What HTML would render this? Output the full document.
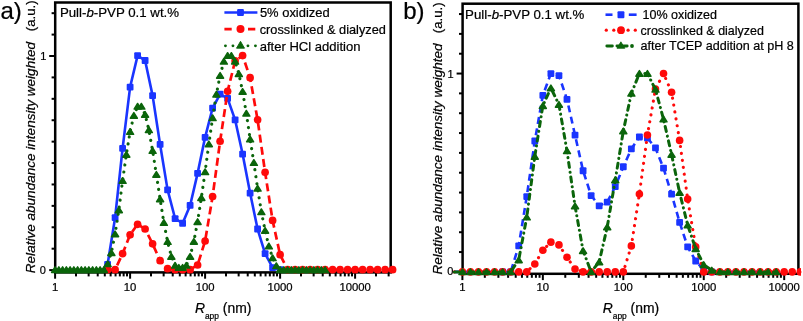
<!DOCTYPE html><html><head><meta charset="utf-8"><style>html,body{margin:0;padding:0;background:#fff;overflow:hidden}svg{display:block;will-change:transform}</style></head><body><svg width="803" height="321" viewBox="0 0 803 321" font-family="Liberation Sans, sans-serif"><style>text{stroke:#000;stroke-width:0.22px;fill:#000}</style><rect width="803" height="321" fill="#fff"/><defs><clipPath id="cb"><rect x="0" y="0" width="801" height="321"/></clipPath></defs><rect x="55.20" y="2.50" width="335.50" height="269.90" fill="none" stroke="#000" stroke-width="2.5"/><line x1="55.10" y1="272.40" x2="55.10" y2="278.70" stroke="#000" stroke-width="2"/><line x1="76.01" y1="272.40" x2="76.01" y2="276.40" stroke="#000" stroke-width="2"/><line x1="88.64" y1="272.40" x2="88.64" y2="276.40" stroke="#000" stroke-width="2"/><line x1="97.72" y1="272.40" x2="97.72" y2="276.40" stroke="#000" stroke-width="2"/><line x1="104.81" y1="272.40" x2="104.81" y2="276.40" stroke="#000" stroke-width="2"/><line x1="110.63" y1="272.40" x2="110.63" y2="276.40" stroke="#000" stroke-width="2"/><line x1="115.56" y1="272.40" x2="115.56" y2="276.40" stroke="#000" stroke-width="2"/><line x1="119.85" y1="272.40" x2="119.85" y2="276.40" stroke="#000" stroke-width="2"/><line x1="123.64" y1="272.40" x2="123.64" y2="276.40" stroke="#000" stroke-width="2"/><line x1="127.03" y1="272.40" x2="127.03" y2="276.40" stroke="#000" stroke-width="2"/><line x1="130.10" y1="272.40" x2="130.10" y2="278.70" stroke="#000" stroke-width="2"/><line x1="151.01" y1="272.40" x2="151.01" y2="276.40" stroke="#000" stroke-width="2"/><line x1="163.64" y1="272.40" x2="163.64" y2="276.40" stroke="#000" stroke-width="2"/><line x1="172.72" y1="272.40" x2="172.72" y2="276.40" stroke="#000" stroke-width="2"/><line x1="179.81" y1="272.40" x2="179.81" y2="276.40" stroke="#000" stroke-width="2"/><line x1="185.63" y1="272.40" x2="185.63" y2="276.40" stroke="#000" stroke-width="2"/><line x1="190.56" y1="272.40" x2="190.56" y2="276.40" stroke="#000" stroke-width="2"/><line x1="194.85" y1="272.40" x2="194.85" y2="276.40" stroke="#000" stroke-width="2"/><line x1="198.64" y1="272.40" x2="198.64" y2="276.40" stroke="#000" stroke-width="2"/><line x1="202.03" y1="272.40" x2="202.03" y2="276.40" stroke="#000" stroke-width="2"/><line x1="205.10" y1="272.40" x2="205.10" y2="278.70" stroke="#000" stroke-width="2"/><line x1="226.01" y1="272.40" x2="226.01" y2="276.40" stroke="#000" stroke-width="2"/><line x1="238.64" y1="272.40" x2="238.64" y2="276.40" stroke="#000" stroke-width="2"/><line x1="247.72" y1="272.40" x2="247.72" y2="276.40" stroke="#000" stroke-width="2"/><line x1="254.81" y1="272.40" x2="254.81" y2="276.40" stroke="#000" stroke-width="2"/><line x1="260.63" y1="272.40" x2="260.63" y2="276.40" stroke="#000" stroke-width="2"/><line x1="265.56" y1="272.40" x2="265.56" y2="276.40" stroke="#000" stroke-width="2"/><line x1="269.85" y1="272.40" x2="269.85" y2="276.40" stroke="#000" stroke-width="2"/><line x1="273.64" y1="272.40" x2="273.64" y2="276.40" stroke="#000" stroke-width="2"/><line x1="277.03" y1="272.40" x2="277.03" y2="276.40" stroke="#000" stroke-width="2"/><line x1="280.10" y1="272.40" x2="280.10" y2="278.70" stroke="#000" stroke-width="2"/><line x1="301.01" y1="272.40" x2="301.01" y2="276.40" stroke="#000" stroke-width="2"/><line x1="313.64" y1="272.40" x2="313.64" y2="276.40" stroke="#000" stroke-width="2"/><line x1="322.72" y1="272.40" x2="322.72" y2="276.40" stroke="#000" stroke-width="2"/><line x1="329.81" y1="272.40" x2="329.81" y2="276.40" stroke="#000" stroke-width="2"/><line x1="335.63" y1="272.40" x2="335.63" y2="276.40" stroke="#000" stroke-width="2"/><line x1="340.56" y1="272.40" x2="340.56" y2="276.40" stroke="#000" stroke-width="2"/><line x1="344.85" y1="272.40" x2="344.85" y2="276.40" stroke="#000" stroke-width="2"/><line x1="348.64" y1="272.40" x2="348.64" y2="276.40" stroke="#000" stroke-width="2"/><line x1="352.03" y1="272.40" x2="352.03" y2="276.40" stroke="#000" stroke-width="2"/><line x1="355.10" y1="272.40" x2="355.10" y2="278.70" stroke="#000" stroke-width="2"/><line x1="376.01" y1="272.40" x2="376.01" y2="276.40" stroke="#000" stroke-width="2"/><line x1="388.64" y1="272.40" x2="388.64" y2="276.40" stroke="#000" stroke-width="2"/><line x1="49.20" y1="270.10" x2="55.20" y2="270.10" stroke="#000" stroke-width="2"/><line x1="51.60" y1="248.69" x2="55.20" y2="248.69" stroke="#000" stroke-width="2"/><line x1="51.60" y1="227.28" x2="55.20" y2="227.28" stroke="#000" stroke-width="2"/><line x1="51.60" y1="205.87" x2="55.20" y2="205.87" stroke="#000" stroke-width="2"/><line x1="51.60" y1="184.46" x2="55.20" y2="184.46" stroke="#000" stroke-width="2"/><line x1="51.60" y1="163.05" x2="55.20" y2="163.05" stroke="#000" stroke-width="2"/><line x1="51.60" y1="141.64" x2="55.20" y2="141.64" stroke="#000" stroke-width="2"/><line x1="51.60" y1="120.23" x2="55.20" y2="120.23" stroke="#000" stroke-width="2"/><line x1="51.60" y1="98.82" x2="55.20" y2="98.82" stroke="#000" stroke-width="2"/><line x1="51.60" y1="77.41" x2="55.20" y2="77.41" stroke="#000" stroke-width="2"/><line x1="49.20" y1="56.00" x2="55.20" y2="56.00" stroke="#000" stroke-width="2"/><line x1="51.60" y1="34.59" x2="55.20" y2="34.59" stroke="#000" stroke-width="2"/><line x1="51.60" y1="13.18" x2="55.20" y2="13.18" stroke="#000" stroke-width="2"/><text x="55.10" y="291.1" font-size="11.3" text-anchor="middle" >1</text><text x="130.10" y="291.1" font-size="11.3" text-anchor="middle" >10</text><text x="205.10" y="291.1" font-size="11.3" text-anchor="middle" >100</text><text x="280.10" y="291.1" font-size="11.3" text-anchor="middle" >1000</text><text x="355.10" y="291.1" font-size="11.3" text-anchor="middle" >10000</text><text x="43.2" y="60.2" font-size="11" text-anchor="middle" >1</text><text x="42.8" y="274.2" font-size="11" text-anchor="middle" >0</text><text x="194.9" y="312.6" font-size="13.9"><tspan font-style="italic">R</tspan><tspan font-size="8.4" dy="6.0">app</tspan><tspan dy="-6.0"> (nm)</tspan></text><text transform="translate(34.6,273.2) rotate(-90)" font-size="13.55"><tspan font-style="italic">Relative abundance intensity weighted</tspan><tspan dx="10.8" font-size="13.2">(a.u.)</tspan></text><text x="0.5" y="18.7" font-size="24" text-anchor="start" >a)</text><text x="59.9" y="17.1" font-size="13.6" textLength="119.2" lengthAdjust="spacingAndGlyphs">Pull-<tspan font-style="italic">b</tspan>-PVP 0.1 wt.%</text><polyline points="107.60,264.35 115.10,217.67 122.60,148.31 130.10,87.07 137.60,55.60 145.10,60.52 152.60,95.64 160.10,144.45 167.60,189.84 175.10,218.53 182.60,223.24 190.10,205.47 197.60,173.35 205.10,137.39 212.60,108.05 220.10,94.14 227.60,98.42 235.10,119.83 242.60,154.09 250.10,193.05 257.60,229.02 265.10,253.64 272.60,267.56 280.10,269.70" fill="none" stroke="#1a35ff" stroke-width="2.6" stroke-linecap="butt" stroke-linejoin="round"/><g fill="#1a35ff"><rect x="104.20" y="260.95" width="6.8" height="6.8" rx="1"/><rect x="111.70" y="214.27" width="6.8" height="6.8" rx="1"/><rect x="119.20" y="144.91" width="6.8" height="6.8" rx="1"/><rect x="126.70" y="83.67" width="6.8" height="6.8" rx="1"/><rect x="134.20" y="52.20" width="6.8" height="6.8" rx="1"/><rect x="141.70" y="57.12" width="6.8" height="6.8" rx="1"/><rect x="149.20" y="92.24" width="6.8" height="6.8" rx="1"/><rect x="156.70" y="141.05" width="6.8" height="6.8" rx="1"/><rect x="164.20" y="186.44" width="6.8" height="6.8" rx="1"/><rect x="171.70" y="215.13" width="6.8" height="6.8" rx="1"/><rect x="179.20" y="219.84" width="6.8" height="6.8" rx="1"/><rect x="186.70" y="202.07" width="6.8" height="6.8" rx="1"/><rect x="194.20" y="169.95" width="6.8" height="6.8" rx="1"/><rect x="201.70" y="133.99" width="6.8" height="6.8" rx="1"/><rect x="209.20" y="104.65" width="6.8" height="6.8" rx="1"/><rect x="216.70" y="90.74" width="6.8" height="6.8" rx="1"/><rect x="224.20" y="95.02" width="6.8" height="6.8" rx="1"/><rect x="231.70" y="116.43" width="6.8" height="6.8" rx="1"/><rect x="239.20" y="150.69" width="6.8" height="6.8" rx="1"/><rect x="246.70" y="189.65" width="6.8" height="6.8" rx="1"/><rect x="254.20" y="225.62" width="6.8" height="6.8" rx="1"/><rect x="261.70" y="250.24" width="6.8" height="6.8" rx="1"/><rect x="269.20" y="264.16" width="6.8" height="6.8" rx="1"/><rect x="276.70" y="266.30" width="6.8" height="6.8" rx="1"/></g><polyline points="107.60,269.70 115.10,269.70 122.60,253.64 130.10,234.80 137.60,224.31 145.10,229.02 152.60,243.79 160.10,260.71 167.60,268.63 175.10,269.70 182.60,269.70 190.10,269.70 197.60,264.99 205.10,241.01 212.60,196.48 220.10,141.24 227.60,91.35 235.10,60.95 242.60,55.60 250.10,77.65 257.60,119.83 265.10,172.28 272.60,220.46 280.10,254.71 287.60,269.70 295.10,269.70 302.60,269.70 310.10,269.70 317.60,269.70 325.10,269.70 332.60,269.70 340.10,269.70 347.60,269.70 355.10,269.70 362.60,269.70 370.10,269.70 377.60,269.70 385.10,269.70 392.60,269.70" fill="none" stroke="#ff0a0a" stroke-width="2.7" stroke-dasharray="8,4.3" stroke-linecap="butt" stroke-linejoin="round"/><g fill="#ff0a0a"><circle cx="107.60" cy="269.70" r="3.85"/><circle cx="115.10" cy="269.70" r="3.85"/><circle cx="122.60" cy="253.64" r="3.85"/><circle cx="130.10" cy="234.80" r="3.85"/><circle cx="137.60" cy="224.31" r="3.85"/><circle cx="145.10" cy="229.02" r="3.85"/><circle cx="152.60" cy="243.79" r="3.85"/><circle cx="160.10" cy="260.71" r="3.85"/><circle cx="167.60" cy="268.63" r="3.85"/><circle cx="175.10" cy="269.70" r="3.85"/><circle cx="182.60" cy="269.70" r="3.85"/><circle cx="190.10" cy="269.70" r="3.85"/><circle cx="197.60" cy="264.99" r="3.85"/><circle cx="205.10" cy="241.01" r="3.85"/><circle cx="212.60" cy="196.48" r="3.85"/><circle cx="220.10" cy="141.24" r="3.85"/><circle cx="227.60" cy="91.35" r="3.85"/><circle cx="235.10" cy="60.95" r="3.85"/><circle cx="242.60" cy="55.60" r="3.85"/><circle cx="250.10" cy="77.65" r="3.85"/><circle cx="257.60" cy="119.83" r="3.85"/><circle cx="265.10" cy="172.28" r="3.85"/><circle cx="272.60" cy="220.46" r="3.85"/><circle cx="280.10" cy="254.71" r="3.85"/><circle cx="287.60" cy="269.70" r="3.85"/><circle cx="295.10" cy="269.70" r="3.85"/><circle cx="302.60" cy="269.70" r="3.85"/><circle cx="310.10" cy="269.70" r="3.85"/><circle cx="317.60" cy="269.70" r="3.85"/><circle cx="325.10" cy="269.70" r="3.85"/><circle cx="332.60" cy="269.70" r="3.85"/><circle cx="340.10" cy="269.70" r="3.85"/><circle cx="347.60" cy="269.70" r="3.85"/><circle cx="355.10" cy="269.70" r="3.85"/><circle cx="362.60" cy="269.70" r="3.85"/><circle cx="370.10" cy="269.70" r="3.85"/><circle cx="377.60" cy="269.70" r="3.85"/><circle cx="385.10" cy="269.70" r="3.85"/><circle cx="392.60" cy="269.70" r="3.85"/></g><polyline points="55.10,269.70 58.85,269.70 62.60,269.70 66.35,269.70 70.10,269.70 73.85,269.70 77.60,269.70 81.35,269.70 85.10,269.70 88.85,269.70 92.60,269.70 96.35,269.70 100.10,269.70 103.85,269.70 107.60,263.92 111.35,252.79 115.10,233.95 118.85,209.97 122.60,180.63 126.35,154.51 130.10,131.61 133.85,115.55 137.60,106.34 141.35,106.34 145.10,114.48 148.85,129.89 152.60,150.66 156.35,174.43 160.10,199.05 163.85,222.60 167.60,241.65 171.35,256.43 175.10,265.42 178.85,267.56 182.60,267.56 186.35,265.42 190.10,256.43 193.85,241.44 197.60,221.74 201.35,197.76 205.10,171.86 208.85,144.02 212.60,117.90 216.35,94.35 220.10,75.51 223.85,61.38 227.60,55.60 231.35,55.60 235.10,61.38 238.85,73.80 242.60,91.57 246.35,113.41 250.10,139.10 253.85,162.65 257.60,188.34 261.35,211.89 265.10,230.52 268.85,246.15 272.60,257.92 276.35,265.85 280.10,269.70 283.85,269.70 287.60,269.70 291.35,269.70 295.10,269.70 298.85,269.70 302.60,269.70 306.35,269.70 310.10,269.70 313.85,269.70 317.60,269.70 321.35,269.70 325.10,269.70" fill="none" stroke="#0b650b" stroke-width="3.1" stroke-dasharray="0.1,7" stroke-linecap="round" stroke-linejoin="round"/><g fill="#0b650b" stroke="#0b650b" stroke-width="1.5" stroke-linejoin="round"><path d="M55.10,266.80L58.60,272.40L51.60,272.40Z"/><path d="M58.85,266.80L62.35,272.40L55.35,272.40Z"/><path d="M62.60,266.80L66.10,272.40L59.10,272.40Z"/><path d="M66.35,266.80L69.85,272.40L62.85,272.40Z"/><path d="M70.10,266.80L73.60,272.40L66.60,272.40Z"/><path d="M73.85,266.80L77.35,272.40L70.35,272.40Z"/><path d="M77.60,266.80L81.10,272.40L74.10,272.40Z"/><path d="M81.35,266.80L84.85,272.40L77.85,272.40Z"/><path d="M85.10,266.80L88.60,272.40L81.60,272.40Z"/><path d="M88.85,266.80L92.35,272.40L85.35,272.40Z"/><path d="M92.60,266.80L96.10,272.40L89.10,272.40Z"/><path d="M96.35,266.80L99.85,272.40L92.85,272.40Z"/><path d="M100.10,266.80L103.60,272.40L96.60,272.40Z"/><path d="M103.85,266.80L107.35,272.40L100.35,272.40Z"/><path d="M107.60,261.02L111.10,266.62L104.10,266.62Z"/><path d="M111.35,249.89L114.85,255.49L107.85,255.49Z"/><path d="M115.10,231.05L118.60,236.65L111.60,236.65Z"/><path d="M118.85,207.07L122.35,212.67L115.35,212.67Z"/><path d="M122.60,177.73L126.10,183.33L119.10,183.33Z"/><path d="M126.35,151.61L129.85,157.21L122.85,157.21Z"/><path d="M130.10,128.71L133.60,134.31L126.60,134.31Z"/><path d="M133.85,112.65L137.35,118.25L130.35,118.25Z"/><path d="M137.60,103.44L141.10,109.04L134.10,109.04Z"/><path d="M141.35,103.44L144.85,109.04L137.85,109.04Z"/><path d="M145.10,111.58L148.60,117.18L141.60,117.18Z"/><path d="M148.85,126.99L152.35,132.59L145.35,132.59Z"/><path d="M152.60,147.76L156.10,153.36L149.10,153.36Z"/><path d="M156.35,171.53L159.85,177.13L152.85,177.13Z"/><path d="M160.10,196.15L163.60,201.75L156.60,201.75Z"/><path d="M163.85,219.70L167.35,225.30L160.35,225.30Z"/><path d="M167.60,238.75L171.10,244.35L164.10,244.35Z"/><path d="M171.35,253.53L174.85,259.13L167.85,259.13Z"/><path d="M175.10,262.52L178.60,268.12L171.60,268.12Z"/><path d="M178.85,264.66L182.35,270.26L175.35,270.26Z"/><path d="M182.60,264.66L186.10,270.26L179.10,270.26Z"/><path d="M186.35,262.52L189.85,268.12L182.85,268.12Z"/><path d="M190.10,253.53L193.60,259.13L186.60,259.13Z"/><path d="M193.85,238.54L197.35,244.14L190.35,244.14Z"/><path d="M197.60,218.84L201.10,224.44L194.10,224.44Z"/><path d="M201.35,194.86L204.85,200.46L197.85,200.46Z"/><path d="M205.10,168.96L208.60,174.56L201.60,174.56Z"/><path d="M208.85,141.12L212.35,146.72L205.35,146.72Z"/><path d="M212.60,115.00L216.10,120.60L209.10,120.60Z"/><path d="M216.35,91.45L219.85,97.05L212.85,97.05Z"/><path d="M220.10,72.61L223.60,78.21L216.60,78.21Z"/><path d="M223.85,58.48L227.35,64.08L220.35,64.08Z"/><path d="M227.60,52.70L231.10,58.30L224.10,58.30Z"/><path d="M231.35,52.70L234.85,58.30L227.85,58.30Z"/><path d="M235.10,58.48L238.60,64.08L231.60,64.08Z"/><path d="M238.85,70.90L242.35,76.50L235.35,76.50Z"/><path d="M242.60,88.67L246.10,94.27L239.10,94.27Z"/><path d="M246.35,110.51L249.85,116.11L242.85,116.11Z"/><path d="M250.10,136.20L253.60,141.80L246.60,141.80Z"/><path d="M253.85,159.75L257.35,165.35L250.35,165.35Z"/><path d="M257.60,185.44L261.10,191.04L254.10,191.04Z"/><path d="M261.35,208.99L264.85,214.59L257.85,214.59Z"/><path d="M265.10,227.62L268.60,233.22L261.60,233.22Z"/><path d="M268.85,243.25L272.35,248.85L265.35,248.85Z"/><path d="M272.60,255.02L276.10,260.62L269.10,260.62Z"/><path d="M276.35,262.95L279.85,268.55L272.85,268.55Z"/><path d="M280.10,266.80L283.60,272.40L276.60,272.40Z"/><path d="M283.85,266.80L287.35,272.40L280.35,272.40Z"/><path d="M287.60,266.80L291.10,272.40L284.10,272.40Z"/><path d="M291.35,266.80L294.85,272.40L287.85,272.40Z"/><path d="M295.10,266.80L298.60,272.40L291.60,272.40Z"/><path d="M298.85,266.80L302.35,272.40L295.35,272.40Z"/><path d="M302.60,266.80L306.10,272.40L299.10,272.40Z"/><path d="M306.35,266.80L309.85,272.40L302.85,272.40Z"/><path d="M310.10,266.80L313.60,272.40L306.60,272.40Z"/><path d="M313.85,266.80L317.35,272.40L310.35,272.40Z"/><path d="M317.60,266.80L321.10,272.40L314.10,272.40Z"/><path d="M321.35,266.80L324.85,272.40L317.85,272.40Z"/><path d="M325.10,266.80L328.60,272.40L321.60,272.40Z"/></g><line x1="224.4" y1="12.5" x2="257.4" y2="12.5" stroke="#1a35ff" stroke-width="2.6"/><rect x="237.1" y="9.1" width="6.8" height="6.8" rx="1" fill="#1a35ff"/><line x1="224.4" y1="29.1" x2="257.4" y2="29.1" stroke="#ff0a0a" stroke-width="2.6" stroke-dasharray="7.3,16.3"/><circle cx="240.5" cy="29.1" r="4.0" fill="#ff0a0a"/><line x1="225.4" y1="45.8" x2="257.4" y2="45.8" stroke="#0b650b" stroke-width="2.8" stroke-dasharray="0.1,7.4" stroke-linecap="round"/><g fill="#0b650b" stroke="#0b650b" stroke-width="1.5" stroke-linejoin="round"></g><path d="M240.5,41.3L244.5,48.2L236.5,48.2Z" fill="#0b650b" stroke="#0b650b" stroke-width="0.9" stroke-linejoin="round"/><text x="259.9" y="17.3" font-size="13.4" textLength="69.8" lengthAdjust="spacingAndGlyphs">5% oxidized</text><text x="259.7" y="33.9" font-size="13.4" textLength="126.2" lengthAdjust="spacingAndGlyphs">crosslinked &amp; dialyzed</text><text x="259.7" y="50.6" font-size="13.4" textLength="100.8" lengthAdjust="spacingAndGlyphs">after HCl addition</text><rect x="462.60" y="3.70" width="335.80" height="270.10" fill="none" stroke="#000" stroke-width="2.5"/><line x1="462.40" y1="273.80" x2="462.40" y2="280.10" stroke="#000" stroke-width="2"/><line x1="484.83" y1="273.80" x2="484.83" y2="277.80" stroke="#000" stroke-width="2"/><line x1="498.37" y1="273.80" x2="498.37" y2="277.80" stroke="#000" stroke-width="2"/><line x1="508.11" y1="273.80" x2="508.11" y2="277.80" stroke="#000" stroke-width="2"/><line x1="515.72" y1="273.80" x2="515.72" y2="277.80" stroke="#000" stroke-width="2"/><line x1="521.96" y1="273.80" x2="521.96" y2="277.80" stroke="#000" stroke-width="2"/><line x1="527.26" y1="273.80" x2="527.26" y2="277.80" stroke="#000" stroke-width="2"/><line x1="531.85" y1="273.80" x2="531.85" y2="277.80" stroke="#000" stroke-width="2"/><line x1="535.92" y1="273.80" x2="535.92" y2="277.80" stroke="#000" stroke-width="2"/><line x1="539.55" y1="273.80" x2="539.55" y2="277.80" stroke="#000" stroke-width="2"/><line x1="542.85" y1="273.80" x2="542.85" y2="280.10" stroke="#000" stroke-width="2"/><line x1="565.28" y1="273.80" x2="565.28" y2="277.80" stroke="#000" stroke-width="2"/><line x1="578.82" y1="273.80" x2="578.82" y2="277.80" stroke="#000" stroke-width="2"/><line x1="588.56" y1="273.80" x2="588.56" y2="277.80" stroke="#000" stroke-width="2"/><line x1="596.17" y1="273.80" x2="596.17" y2="277.80" stroke="#000" stroke-width="2"/><line x1="602.41" y1="273.80" x2="602.41" y2="277.80" stroke="#000" stroke-width="2"/><line x1="607.71" y1="273.80" x2="607.71" y2="277.80" stroke="#000" stroke-width="2"/><line x1="612.30" y1="273.80" x2="612.30" y2="277.80" stroke="#000" stroke-width="2"/><line x1="616.37" y1="273.80" x2="616.37" y2="277.80" stroke="#000" stroke-width="2"/><line x1="620.00" y1="273.80" x2="620.00" y2="277.80" stroke="#000" stroke-width="2"/><line x1="623.30" y1="273.80" x2="623.30" y2="280.10" stroke="#000" stroke-width="2"/><line x1="645.73" y1="273.80" x2="645.73" y2="277.80" stroke="#000" stroke-width="2"/><line x1="659.27" y1="273.80" x2="659.27" y2="277.80" stroke="#000" stroke-width="2"/><line x1="669.01" y1="273.80" x2="669.01" y2="277.80" stroke="#000" stroke-width="2"/><line x1="676.62" y1="273.80" x2="676.62" y2="277.80" stroke="#000" stroke-width="2"/><line x1="682.86" y1="273.80" x2="682.86" y2="277.80" stroke="#000" stroke-width="2"/><line x1="688.16" y1="273.80" x2="688.16" y2="277.80" stroke="#000" stroke-width="2"/><line x1="692.75" y1="273.80" x2="692.75" y2="277.80" stroke="#000" stroke-width="2"/><line x1="696.82" y1="273.80" x2="696.82" y2="277.80" stroke="#000" stroke-width="2"/><line x1="700.45" y1="273.80" x2="700.45" y2="277.80" stroke="#000" stroke-width="2"/><line x1="703.75" y1="273.80" x2="703.75" y2="280.10" stroke="#000" stroke-width="2"/><line x1="726.18" y1="273.80" x2="726.18" y2="277.80" stroke="#000" stroke-width="2"/><line x1="739.72" y1="273.80" x2="739.72" y2="277.80" stroke="#000" stroke-width="2"/><line x1="749.46" y1="273.80" x2="749.46" y2="277.80" stroke="#000" stroke-width="2"/><line x1="757.07" y1="273.80" x2="757.07" y2="277.80" stroke="#000" stroke-width="2"/><line x1="763.31" y1="273.80" x2="763.31" y2="277.80" stroke="#000" stroke-width="2"/><line x1="768.61" y1="273.80" x2="768.61" y2="277.80" stroke="#000" stroke-width="2"/><line x1="773.20" y1="273.80" x2="773.20" y2="277.80" stroke="#000" stroke-width="2"/><line x1="777.27" y1="273.80" x2="777.27" y2="277.80" stroke="#000" stroke-width="2"/><line x1="780.90" y1="273.80" x2="780.90" y2="277.80" stroke="#000" stroke-width="2"/><line x1="784.20" y1="273.80" x2="784.20" y2="280.10" stroke="#000" stroke-width="2"/><line x1="456.60" y1="271.90" x2="462.60" y2="271.90" stroke="#000" stroke-width="2"/><line x1="459.00" y1="252.06" x2="462.60" y2="252.06" stroke="#000" stroke-width="2"/><line x1="459.00" y1="232.23" x2="462.60" y2="232.23" stroke="#000" stroke-width="2"/><line x1="459.00" y1="212.39" x2="462.60" y2="212.39" stroke="#000" stroke-width="2"/><line x1="459.00" y1="192.56" x2="462.60" y2="192.56" stroke="#000" stroke-width="2"/><line x1="459.00" y1="172.72" x2="462.60" y2="172.72" stroke="#000" stroke-width="2"/><line x1="459.00" y1="152.89" x2="462.60" y2="152.89" stroke="#000" stroke-width="2"/><line x1="459.00" y1="133.06" x2="462.60" y2="133.06" stroke="#000" stroke-width="2"/><line x1="459.00" y1="113.22" x2="462.60" y2="113.22" stroke="#000" stroke-width="2"/><line x1="459.00" y1="93.38" x2="462.60" y2="93.38" stroke="#000" stroke-width="2"/><line x1="456.60" y1="73.55" x2="462.60" y2="73.55" stroke="#000" stroke-width="2"/><line x1="459.00" y1="53.72" x2="462.60" y2="53.72" stroke="#000" stroke-width="2"/><line x1="459.00" y1="33.88" x2="462.60" y2="33.88" stroke="#000" stroke-width="2"/><line x1="459.00" y1="14.05" x2="462.60" y2="14.05" stroke="#000" stroke-width="2"/><text x="462.40" y="291.1" font-size="11.3" text-anchor="middle" >1</text><text x="542.85" y="291.1" font-size="11.3" text-anchor="middle" >10</text><text x="623.30" y="291.1" font-size="11.3" text-anchor="middle" >100</text><text x="703.75" y="291.1" font-size="11.3" text-anchor="middle" >1000</text><text x="784.20" y="291.1" font-size="11.3" text-anchor="middle" >10000</text><text x="450.5" y="77.9" font-size="11" text-anchor="middle" >1</text><text x="450.3" y="275.3" font-size="11" text-anchor="middle" >0</text><text x="602.7" y="312.6" font-size="13.9"><tspan font-style="italic">R</tspan><tspan font-size="8.4" dy="6.0">app</tspan><tspan dy="-6.0"> (nm)</tspan></text><text transform="translate(441.8,274.6) rotate(-90)" font-size="13.55"><tspan font-style="italic">Relative abundance intensity weighted</tspan><tspan dx="10.2" font-size="13.2">(a.u.)</tspan></text><text x="403.2" y="18.7" font-size="24" text-anchor="start" >b)</text><text x="465.1" y="18.6" font-size="13.6" textLength="119.2" lengthAdjust="spacingAndGlyphs">Pull-<tspan font-style="italic">b</tspan>-PVP 0.1 wt.%</text><polyline points="454.35,271.90 462.40,271.90 470.44,271.90 478.49,271.90 486.53,271.90 494.58,271.90 502.62,271.90 510.67,271.90 518.71,245.92 526.76,196.53 534.80,140.99 542.85,95.37 550.89,73.55 558.94,75.53 566.99,99.34 575.03,135.04 583.08,170.74 591.12,195.54 599.16,205.85 607.21,202.08 615.25,186.61 623.30,166.77 631.35,148.92 639.39,137.02 647.43,138.01 655.48,147.93 663.52,168.16 671.57,194.15 679.62,222.31 687.66,246.91 695.70,260.99 703.75,269.92 711.79,271.90 719.84,271.90 727.88,271.90 735.93,271.90 743.97,271.90 752.02,271.90 760.07,271.90 768.11,271.90 776.15,271.90" fill="none" stroke="#1a35ff" stroke-width="2.6" stroke-dasharray="7,4.5" stroke-linecap="butt" stroke-linejoin="round"/><g fill="#1a35ff"><rect x="499.23" y="268.50" width="6.8" height="6.8" rx="1"/><rect x="507.27" y="268.50" width="6.8" height="6.8" rx="1"/><rect x="515.31" y="242.52" width="6.8" height="6.8" rx="1"/><rect x="523.36" y="193.13" width="6.8" height="6.8" rx="1"/><rect x="531.40" y="137.59" width="6.8" height="6.8" rx="1"/><rect x="539.45" y="91.97" width="6.8" height="6.8" rx="1"/><rect x="547.50" y="70.15" width="6.8" height="6.8" rx="1"/><rect x="555.54" y="72.13" width="6.8" height="6.8" rx="1"/><rect x="563.59" y="95.94" width="6.8" height="6.8" rx="1"/><rect x="571.63" y="131.64" width="6.8" height="6.8" rx="1"/><rect x="579.68" y="167.34" width="6.8" height="6.8" rx="1"/><rect x="587.72" y="192.14" width="6.8" height="6.8" rx="1"/><rect x="595.76" y="202.45" width="6.8" height="6.8" rx="1"/><rect x="603.81" y="198.68" width="6.8" height="6.8" rx="1"/><rect x="611.86" y="183.21" width="6.8" height="6.8" rx="1"/><rect x="619.90" y="163.37" width="6.8" height="6.8" rx="1"/><rect x="627.95" y="145.52" width="6.8" height="6.8" rx="1"/><rect x="635.99" y="133.62" width="6.8" height="6.8" rx="1"/><rect x="644.03" y="134.61" width="6.8" height="6.8" rx="1"/><rect x="652.08" y="144.53" width="6.8" height="6.8" rx="1"/><rect x="660.12" y="164.76" width="6.8" height="6.8" rx="1"/><rect x="668.17" y="190.75" width="6.8" height="6.8" rx="1"/><rect x="676.22" y="218.91" width="6.8" height="6.8" rx="1"/><rect x="684.26" y="243.51" width="6.8" height="6.8" rx="1"/><rect x="692.30" y="257.59" width="6.8" height="6.8" rx="1"/><rect x="700.35" y="266.52" width="6.8" height="6.8" rx="1"/><rect x="708.39" y="268.50" width="6.8" height="6.8" rx="1"/></g><polyline points="454.35,271.90 462.40,271.90 470.44,271.90 478.49,271.90 486.53,271.90 494.58,271.90 502.62,271.90 510.67,271.90 518.71,271.90 526.76,271.90 534.80,263.97 542.85,250.28 550.89,242.15 558.94,244.92 566.99,257.22 575.03,269.12 583.08,271.90 591.12,271.90 599.16,271.90 607.21,271.90 615.25,271.90 623.30,271.90 631.35,245.92 639.39,193.95 647.43,135.04 655.48,89.02 663.52,73.55 671.57,92.19 679.62,140.39 687.66,199.11 695.70,246.91 703.75,271.90 711.79,271.90 719.84,271.90 727.88,271.90 735.93,271.90 743.97,271.90 752.02,271.90 760.07,271.90 768.11,271.90 776.15,271.90 784.20,271.90 792.24,271.90 800.29,271.90" fill="none" stroke="#ff0a0a" stroke-width="3.1" stroke-dasharray="0.1,6.9" stroke-linecap="round" stroke-linejoin="round"/><g clip-path="url(#cb)"><g fill="#ff0a0a"><circle cx="462.40" cy="271.90" r="3.8"/><circle cx="470.44" cy="271.90" r="3.8"/><circle cx="478.49" cy="271.90" r="3.8"/><circle cx="486.53" cy="271.90" r="3.8"/><circle cx="494.58" cy="271.90" r="3.8"/><circle cx="502.62" cy="271.90" r="3.8"/><circle cx="510.67" cy="271.90" r="3.8"/><circle cx="518.71" cy="271.90" r="3.8"/><circle cx="526.76" cy="271.90" r="3.8"/><circle cx="534.80" cy="263.97" r="3.8"/><circle cx="542.85" cy="250.28" r="3.8"/><circle cx="550.89" cy="242.15" r="3.8"/><circle cx="558.94" cy="244.92" r="3.8"/><circle cx="566.99" cy="257.22" r="3.8"/><circle cx="575.03" cy="269.12" r="3.8"/><circle cx="583.08" cy="271.90" r="3.8"/><circle cx="591.12" cy="271.90" r="3.8"/><circle cx="599.16" cy="271.90" r="3.8"/><circle cx="607.21" cy="271.90" r="3.8"/><circle cx="615.25" cy="271.90" r="3.8"/><circle cx="623.30" cy="271.90" r="3.8"/><circle cx="631.35" cy="245.92" r="3.8"/><circle cx="639.39" cy="193.95" r="3.8"/><circle cx="647.43" cy="135.04" r="3.8"/><circle cx="655.48" cy="89.02" r="3.8"/><circle cx="663.52" cy="73.55" r="3.8"/><circle cx="671.57" cy="92.19" r="3.8"/><circle cx="679.62" cy="140.39" r="3.8"/><circle cx="687.66" cy="199.11" r="3.8"/><circle cx="695.70" cy="246.91" r="3.8"/><circle cx="703.75" cy="271.90" r="3.8"/><circle cx="711.79" cy="271.90" r="3.8"/><circle cx="719.84" cy="271.90" r="3.8"/><circle cx="727.88" cy="271.90" r="3.8"/><circle cx="735.93" cy="271.90" r="3.8"/><circle cx="743.97" cy="271.90" r="3.8"/><circle cx="752.02" cy="271.90" r="3.8"/><circle cx="760.07" cy="271.90" r="3.8"/><circle cx="768.11" cy="271.90" r="3.8"/><circle cx="776.15" cy="271.90" r="3.8"/><circle cx="784.20" cy="271.90" r="3.8"/><circle cx="792.24" cy="271.90" r="3.8"/><circle cx="800.29" cy="271.90" r="3.8"/></g></g><polyline points="454.35,271.90 462.40,271.90 470.44,271.90 478.49,271.90 486.53,271.90 494.58,271.90 502.62,271.90 510.67,271.90 518.71,260.00 526.76,217.16 534.80,156.46 542.85,105.68 550.89,88.03 558.94,104.49 566.99,150.91 575.03,206.05 583.08,250.68 591.12,271.90 599.16,261.98 607.21,227.07 615.25,180.06 623.30,131.07 631.35,93.38 639.39,73.55 647.43,73.55 655.48,89.42 663.52,119.17 671.57,154.48 679.62,192.56 687.66,225.09 695.70,248.69 703.75,264.76 711.79,270.31 719.84,271.90 727.88,271.90 735.93,271.90 743.97,271.90 752.02,271.90 760.07,271.90 768.11,271.90 776.15,271.90" fill="none" stroke="#0b650b" stroke-width="3.0" stroke-dasharray="5,4.8,0.1,4.8" stroke-linecap="round" stroke-linejoin="round"/><g fill="#0b650b" stroke="#0b650b" stroke-width="1.5" stroke-linejoin="round"><path d="M462.40,269.00L465.90,274.60L458.90,274.60Z"/><path d="M470.44,269.00L473.94,274.60L466.94,274.60Z"/><path d="M478.49,269.00L481.99,274.60L474.99,274.60Z"/><path d="M486.53,269.00L490.03,274.60L483.03,274.60Z"/><path d="M494.58,269.00L498.08,274.60L491.08,274.60Z"/><path d="M502.62,269.00L506.12,274.60L499.12,274.60Z"/><path d="M510.67,269.00L514.17,274.60L507.17,274.60Z"/><path d="M518.71,257.10L522.21,262.70L515.21,262.70Z"/><path d="M526.76,214.26L530.26,219.86L523.26,219.86Z"/><path d="M534.80,153.56L538.30,159.16L531.30,159.16Z"/><path d="M542.85,102.78L546.35,108.38L539.35,108.38Z"/><path d="M550.89,85.13L554.39,90.73L547.39,90.73Z"/><path d="M558.94,101.59L562.44,107.19L555.44,107.19Z"/><path d="M566.99,148.01L570.49,153.61L563.49,153.61Z"/><path d="M575.03,203.15L578.53,208.75L571.53,208.75Z"/><path d="M583.08,247.78L586.58,253.38L579.58,253.38Z"/><path d="M591.12,269.00L594.62,274.60L587.62,274.60Z"/><path d="M599.16,259.08L602.66,264.68L595.66,264.68Z"/><path d="M607.21,224.17L610.71,229.77L603.71,229.77Z"/><path d="M615.25,177.16L618.75,182.76L611.75,182.76Z"/><path d="M623.30,128.17L626.80,133.77L619.80,133.77Z"/><path d="M631.35,90.48L634.85,96.08L627.85,96.08Z"/><path d="M639.39,70.65L642.89,76.25L635.89,76.25Z"/><path d="M647.43,70.65L650.93,76.25L643.93,76.25Z"/><path d="M655.48,86.52L658.98,92.12L651.98,92.12Z"/><path d="M663.52,116.27L667.02,121.87L660.02,121.87Z"/><path d="M671.57,151.58L675.07,157.18L668.07,157.18Z"/><path d="M679.62,189.66L683.12,195.26L676.12,195.26Z"/><path d="M687.66,222.19L691.16,227.79L684.16,227.79Z"/><path d="M695.70,245.79L699.20,251.39L692.20,251.39Z"/><path d="M703.75,261.86L707.25,267.46L700.25,267.46Z"/><path d="M711.79,267.41L715.29,273.01L708.29,273.01Z"/><path d="M719.84,269.00L723.34,274.60L716.34,274.60Z"/><path d="M727.88,269.00L731.38,274.60L724.38,274.60Z"/><path d="M735.93,269.00L739.43,274.60L732.43,274.60Z"/><path d="M743.97,269.00L747.47,274.60L740.47,274.60Z"/><path d="M752.02,269.00L755.52,274.60L748.52,274.60Z"/><path d="M760.07,269.00L763.57,274.60L756.57,274.60Z"/><path d="M768.11,269.00L771.61,274.60L764.61,274.60Z"/><path d="M776.15,269.00L779.65,274.60L772.65,274.60Z"/></g><g stroke="#1a35ff" stroke-width="2.6"><line x1="605.5" y1="14.7" x2="612.5" y2="14.7"/><line x1="628.8" y1="14.7" x2="636.6" y2="14.7"/></g><rect x="617.5" y="11.3" width="6.9" height="6.9" rx="1" fill="#1a35ff"/><g fill="#ff0a0a"><circle cx="606.3" cy="30.2" r="1.6"/><circle cx="613.8" cy="30.2" r="1.6"/><circle cx="628.1" cy="30.2" r="1.6"/><circle cx="635.3" cy="30.2" r="1.6"/><circle cx="621" cy="30.2" r="3.9"/></g><g stroke="#0b650b" stroke-width="2.8" stroke-linecap="round"><line x1="606.8" y1="46" x2="612.4" y2="46"/><line x1="616.9" y1="46" x2="627.2" y2="46"/></g><circle cx="632" cy="46" r="1.9" fill="#0b650b"/><path d="M620.9,41.8L624.8,48.3L617,48.3Z" fill="#0b650b" stroke="#0b650b" stroke-width="0.8" stroke-linejoin="round"/><text x="642.5" y="19.0" font-size="13.3" textLength="74.5" lengthAdjust="spacingAndGlyphs">10% oxidized</text><text x="640.5" y="34.9" font-size="13.3" textLength="123.4" lengthAdjust="spacingAndGlyphs">crosslinked &amp; dialyzed</text><text x="640.5" y="49.8" font-size="13.3" textLength="153.3" lengthAdjust="spacingAndGlyphs">after TCEP addition at pH 8</text></svg></body></html>
